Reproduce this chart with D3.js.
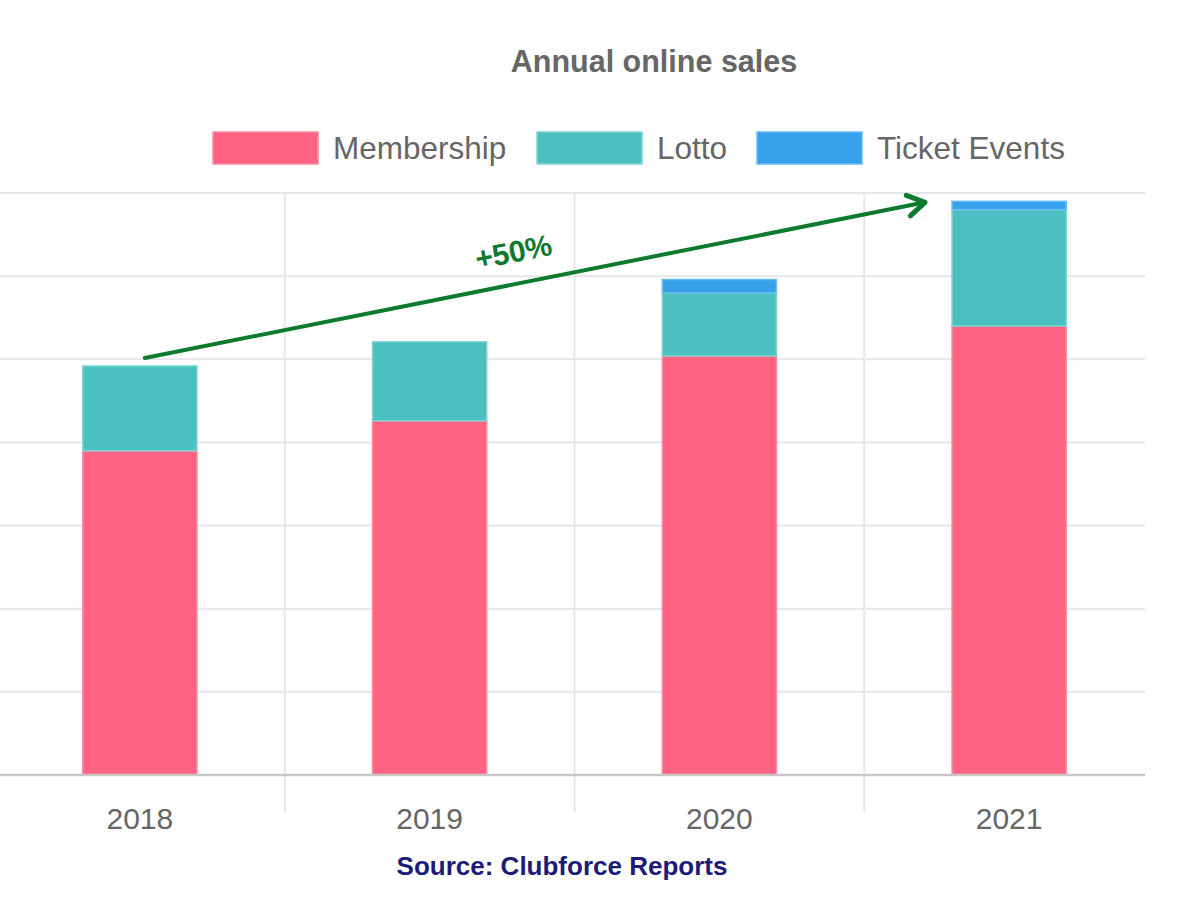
<!DOCTYPE html>
<html>
<head>
<meta charset="utf-8">
<script src="https://cdn.jsdelivr.net/npm/d3@7"></script>
<style>
  html, body { margin: 0; padding: 0; background: #fff; }
  svg { display: block; }
  text { font-family: "Liberation Sans", Arial, sans-serif; }
</style>
</head>
<body>
<script>

const years      = ['2018', '2019', '2020', '2021'];
const membership = [3.90, 4.26, 5.04, 5.40];
const lotto      = [1.02, 0.95, 0.76, 1.40];
const tickets    = [0.00, 0.00, 0.16, 0.10];
const seriesNames = ['Membership', 'Lotto', 'Ticket Events'];
const yTicks     = [0, 1, 2, 3, 4, 5, 6, 7];

const WIDTH  = 1200,
      HEIGHT = 900;

const COLORS = ['#ff6384', '#4bc0c0', '#36a2eb'];
const BORDERS = ['#ff8aa2', '#7fd3d3', '#6bbcf2'];

const PLOT = { left: -5, right: 1154, top: 193, bottom: 775, gridRight: 1145 };

const rows = years.map((year, i) => ({
  year,
  Membership: membership[i],
  Lotto: lotto[i],
  'Ticket Events': tickets[i]
}));

const stack = d3.stack().keys(seriesNames)(rows);

const x = d3.scaleBand()
  .domain(years)
  .range([PLOT.left, PLOT.right])
  .padding(0);

const y = d3.scaleLinear()
  .domain([0, 7])
  .range([PLOT.bottom, PLOT.top]);

const barW = x.bandwidth() * 0.394;
const barX = (year) => x(year) + (x.bandwidth() - barW) / 2;

const svg = d3.select('body').append('svg')
  .attr('width', WIDTH)
  .attr('height', HEIGHT);

// grid
svg.append('g')
  .selectAll('line')
  .data(yTicks.slice(1))
  .enter().append('line')
    .attr('x1', PLOT.left)
    .attr('x2', PLOT.gridRight)
    .attr('y1', (d) => y(d))
    .attr('y2', (d) => y(d))
    .attr('stroke', '#e6e6e6')
    .attr('stroke-width', 2);

svg.append('g')
  .selectAll('line')
  .data(years.slice(1))
  .enter().append('line')
    .attr('x1', (d) => x(d))
    .attr('x2', (d) => x(d))
    .attr('y1', y(7))
    .attr('y2', PLOT.bottom + 37)
    .attr('stroke', '#e6e6e6')
    .attr('stroke-width', 2);

// bars
svg.append('g')
  .selectAll('g')
  .data(stack)
  .enter().append('g')
    .attr('fill', (d, i) => COLORS[i])
    .attr('stroke', (d, i) => BORDERS[i])
    .attr('stroke-width', 1.5)
  .selectAll('rect')
  .data((d) => d.filter((p) => p[1] - p[0] > 0))
  .enter().append('rect')
    .attr('x', (d) => barX(d.data.year))
    .attr('width', barW)
    .attr('y', (d) => y(d[1]))
    .attr('height', (d) => y(d[0]) - y(d[1]));

// baseline
svg.append('line')
  .attr('x1', PLOT.left)
  .attr('x2', PLOT.gridRight)
  .attr('y1', y(0))
  .attr('y2', y(0))
  .attr('stroke', '#c8c8c8')
  .attr('stroke-width', 2.5);

// x labels
svg.append('g')
  .selectAll('text')
  .data(years)
  .enter().append('text')
    .attr('x', (d) => x(d) + x.bandwidth() / 2)
    .attr('y', PLOT.bottom + 54)
    .attr('text-anchor', 'middle')
    .attr('font-size', 30)
    .attr('fill', '#666')
    .text((d) => d);

// title
svg.append('text')
  .attr('x', 654)
  .attr('y', 72)
  .attr('text-anchor', 'middle')
  .attr('font-size', 30.5)
  .attr('font-weight', 'bold')
  .attr('fill', '#666')
  .text('Annual online sales');

// legend
const legendX = [213, 537, 757];
const legend = svg.append('g')
  .selectAll('g')
  .data(seriesNames)
  .enter().append('g')
    .attr('transform', (d, i) => `translate(${legendX[i]}, 132)`);

legend.append('rect')
  .attr('width', 105)
  .attr('height', 32)
  .attr('fill', (d, i) => COLORS[i])
  .attr('stroke', (d, i) => BORDERS[i])
  .attr('stroke-width', 1.5);

legend.append('text')
  .attr('x', 120)
  .attr('y', 27)
  .attr('font-size', 31.5)
  .attr('fill', '#666')
  .text((d) => d);

// growth arrow
const totals = years.map((d, i) => membership[i] + lotto[i] + tickets[i]);
const x0 = x(years[0]) + x.bandwidth() / 2 + 5,
      y0 = y(totals[0]) - 8,
      x1 = barX(years[3]) - 27,
      y1 = y(totals[3]) + 1;

const angle = Math.atan2(y1 - y0, x1 - x0);
const deg = angle * 180 / Math.PI;
const GREEN = '#0d7a2e';

svg.append('line')
  .attr('x1', x0).attr('y1', y0)
  .attr('x2', x1).attr('y2', y1)
  .attr('stroke', GREEN)
  .attr('stroke-width', 4)
  .attr('stroke-linecap', 'round');

const head = 20;
svg.append('path')
  .attr('d', `M ${x1 - head * Math.cos(angle - 0.55)},${y1 - head * Math.sin(angle - 0.55)} L ${x1},${y1} L ${x1 - head * Math.cos(angle + 0.55)},${y1 - head * Math.sin(angle + 0.55)}`)
  .attr('fill', 'none')
  .attr('stroke', GREEN)
  .attr('stroke-width', 5)
  .attr('stroke-linecap', 'round')
  .attr('stroke-linejoin', 'round');

const lx = x0 + (x1 - x0) * 0.475,
      ly = y0 + (y1 - y0) * 0.475 - 22;
svg.append('text')
  .attr('transform', `translate(${lx}, ${ly}) rotate(${deg})`)
  .attr('text-anchor', 'middle')
  .attr('font-size', 30)
  .attr('font-weight', 'bold')
  .attr('fill', GREEN)
  .text('+50%');

// source
svg.append('text')
  .attr('x', 562)
  .attr('y', 875)
  .attr('text-anchor', 'middle')
  .attr('font-size', 26)
  .attr('font-weight', 'bold')
  .attr('fill', '#1c1c78')
  .text('Source: Clubforce Reports');

</script>
</body>
</html>
